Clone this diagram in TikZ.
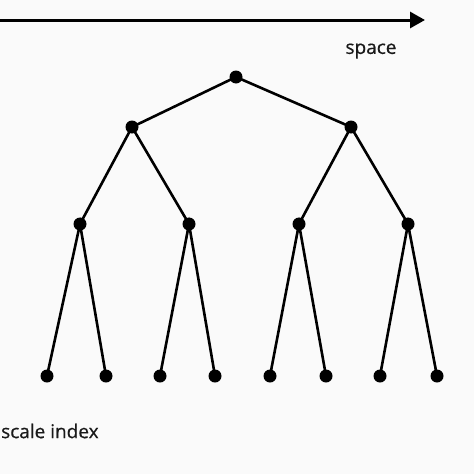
\documentclass[tikz,border=0pt]{standalone}
\usepackage{fontspec}
\setmainfont{Open Sans}
\usetikzlibrary{arrows.meta}
\begin{document}
\begin{tikzpicture}[x=1pt,y=-1pt,
  dot/.style={circle,fill=black,inner sep=0pt,minimum size=13pt},
  edge/.style={line width=2.6pt},
  lbl/.style={font=\fontsize{19}{22}\selectfont,inner sep=0pt,text=black!90}]
\fill[white!98!black] (0,0) rectangle (474,474);
\useasboundingbox (0,0) rectangle (474,474);
\coordinate (a0) at (0,20);
\coordinate (a1) at (425,20);
\draw[line width=3pt,-{Triangle[length=15pt,width=16pt]}] (a0) -- (a1);
\node[lbl] (space) at (371,51) {\addfontfeature{FakeBold=0.6}space};
\node[lbl,anchor=west] (scale) at (1,431) {\addfontfeature{FakeBold=0.6}scale index};
\node[dot] (r) at (236,77) {};
\node[dot] (l) at (132,127) {};
\node[dot] (rr) at (351,127) {};
\node[dot] (ll) at (80,224) {};
\node[dot] (lr) at (189,224) {};
\node[dot] (rl) at (299,224) {};
\node[dot] (rrr) at (408,224) {};
\node[dot] (n1) at (47,376) {};
\node[dot] (n2) at (106,376) {};
\node[dot] (n3) at (160,376) {};
\node[dot] (n4) at (215,376) {};
\node[dot] (n5) at (270,376) {};
\node[dot] (n6) at (326,376) {};
\node[dot] (n7) at (380,376) {};
\node[dot] (n8) at (437,376) {};
\draw[edge] (l.center) -- (r.center) -- (rr.center);
\draw[edge] (ll.center) -- (l.center) -- (lr.center);
\draw[edge] (rl.center) -- (rr.center) -- (rrr.center);
\draw[edge] (n1.center) -- (ll.center) -- (n2.center);
\draw[edge] (n3.center) -- (lr.center) -- (n4.center);
\draw[edge] (n5.center) -- (rl.center) -- (n6.center);
\draw[edge] (n7.center) -- (rrr.center) -- (n8.center);
\end{tikzpicture}
\end{document}
